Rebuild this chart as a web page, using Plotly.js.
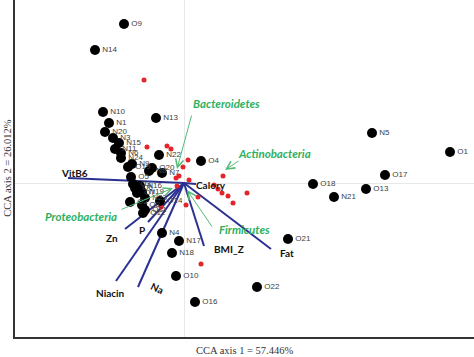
<!DOCTYPE html>
<html>
<head>
<meta charset="utf-8">
<script src="https://cdn.plot.ly/plotly-3.0.1.min.js"></script>
<style>html,body{margin:0;padding:0;background:#fff;}#chart{width:474px;height:357px;}</style>
</head>
<body>
<div id="chart"></div>
<script>
// Samples (CCA site scores)
const sampleNames = ["O9","N14","N10","N13","N1","N20","N3","N15","N11","N6","N24","N22","N9","O19","O20","N8","N7","O4","O5","O3","O6","N16","O7","N19","N23","O2","O8","O11","O12","O14","N4","N17","N18","O10","O16","O21","O22","N5","O1","O17","O18","O13","N21"];
const sampleX = [-0.60,-0.89,-0.81,-0.28,-0.75,-0.79,-0.71,-0.65,-0.69,-0.63,-0.63,-0.25,-0.52,-0.56,-0.32,-0.35,-0.22,0.17,-0.53,-0.51,-0.49,-0.44,-0.47,-0.42,-0.39,-0.54,-0.42,-0.39,-0.41,-0.24,-0.22,-0.05,-0.12,-0.08,0.11,1.04,0.73,1.88,2.66,2.01,1.29,1.82,1.50];
const sampleY = [1.59,1.33,0.71,0.65,0.60,0.51,0.45,0.40,0.34,0.30,0.25,0.28,0.19,0.16,0.15,0.12,0.10,0.22,0.06,-0.01,-0.05,-0.03,-0.10,-0.09,-0.15,-0.19,-0.22,-0.27,-0.30,-0.18,-0.50,-0.58,-0.70,-0.93,-1.19,-0.56,-1.04,0.50,0.31,0.08,-0.01,-0.06,-0.14];

// Species / OTU scores (red)
const otuX = [-0.40,-0.37,-0.17,-0.13,0.04,-0.01,-0.08,-0.05,0.05,0.39,-0.07,0.30,0.34,0.38,0.44,0.63,0.49,0.14,0.02,-0.23,0.17];
const otuY = [1.03,0.36,0.37,0.34,0.23,0.16,0.05,0.07,0.03,0.07,-0.03,-0.02,-0.06,-0.10,-0.13,-0.10,-0.20,-0.14,-0.22,-0.24,-0.81];

// Environmental vectors
const envNames = ["VitB6","Zn","P","Niacin","Na","BMI_Z","Fat","Calory"];
const envX = [-1.16,-0.59,-0.36,-0.68,-0.46,0.20,0.87,0.12];
const envY = [0.05,-0.46,-0.39,-0.98,-1.04,-0.63,-0.66,-0.01];
const envLabelX = [-1.10,-0.72,-0.42,-0.74,-0.27,0.45,1.03,0.27];
const envLabelY = [0.10,-0.55,-0.47,-1.10,-1.05,-0.66,-0.70,-0.02];
const envLabelAngle = [0,0,0,0,25,0,0,0];

// Phyla arrows
const phylaNames = ["Bacteroidetes","Actinobacteria","Proteobacteria","Firmicutes"];
const phylaHeadX = [-0.07,0.41,-0.11,0.03];
const phylaHeadY = [0.14,0.13,-0.05,-0.07];
const phylaTailX = [0.08,0.56,-0.64,0.29];
const phylaTailY = [0.69,0.23,-0.27,-0.45];
const phylaLabelX = [0.42,0.90,-1.03,0.60];
const phylaLabelY = [0.80,0.30,-0.33,-0.46];

const traces = [];
const vx = [], vy = [];
envX.forEach((x,i)=>{ vx.push(0,x,null); vy.push(0,envY[i],null); });
traces.push({x:vx,y:vy,mode:'lines',line:{color:'#2b3191',width:2},hoverinfo:'skip',showlegend:false});
traces.push({x:otuX,y:otuY,mode:'markers',marker:{color:'#e3242b',size:5},showlegend:false,cliponaxis:false});
traces.push({x:sampleX,y:sampleY,mode:'markers+text',text:sampleNames,textposition:'middle right',
  textfont:{family:'Liberation Sans, Arial, sans-serif',size:8,color:'#404040'},
  marker:{color:'#000',size:10},showlegend:false,cliponaxis:false});

const ann = [];
envNames.forEach((n,i)=>{
  ann.push({x:envLabelX[i],y:envLabelY[i],xref:'x',yref:'y',text:'<b>'+n+'</b>',showarrow:false,textangle:envLabelAngle[i],
    font:{family:'Lato, Liberation Sans, sans-serif',size:10,color:'#111'}});
});
phylaNames.forEach((n,i)=>{
  ann.push({x:phylaHeadX[i],y:phylaHeadY[i],ax:phylaTailX[i],ay:phylaTailY[i],xref:'x',yref:'y',axref:'x',ayref:'y',
    text:'',showarrow:true,arrowhead:5,arrowsize:1.6,arrowwidth:1,arrowcolor:'#55bb77'});
  ann.push({x:phylaLabelX[i],y:phylaLabelY[i],xref:'x',yref:'y',text:'<b><i>'+n+'</i></b>',showarrow:false,
    font:{family:'Lato, Liberation Sans, sans-serif',size:11.5,color:'#2fb060'}});
});
ann.push({x:0.5,y:-0.04,xref:'paper',yref:'paper',yanchor:'middle',text:'CCA axis 1 = 57.446%',showarrow:false,
  font:{family:'Liberation Serif, Times New Roman, serif',size:10.5,color:'#333'}});
ann.push({x:-0.017,y:0.5,xref:'paper',yref:'paper',xanchor:'center',text:'CCA axis 2 = 26.012%',showarrow:false,textangle:-90,
  font:{family:'Liberation Serif, Times New Roman, serif',size:10.5,color:'#333'}});

const layout = {
  width:474,height:357,margin:{l:15,r:0,t:0,b:20},paper_bgcolor:'#fff',plot_bgcolor:'#fff',
  xaxis:{range:[-1.69,2.90],showgrid:false,zeroline:true,zerolinecolor:'#e8e8e8',zerolinewidth:1,showticklabels:false,ticks:'',
    showline:true,linecolor:'#333',linewidth:2},
  yaxis:{range:[-1.54,1.83],showgrid:false,zeroline:true,zerolinecolor:'#e8e8e8',zerolinewidth:1,showticklabels:false,ticks:'',
    showline:true,linecolor:'#333',linewidth:2},
  annotations:ann,showlegend:false
};
Plotly.newPlot('chart',traces,layout,{staticPlot:true});
</script>
</body>
</html>
